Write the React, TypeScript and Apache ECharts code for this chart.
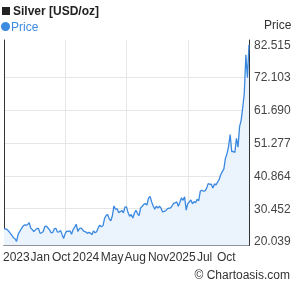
import React, { useEffect, useRef } from "react";
import * as echarts from "echarts";

// Weekly silver prices (USD/oz), starting 2023-01-13
const prices2023 = [
  24.0, 24.0, 23.8,
  23.3, 22.6, 22.0, 21.2,
  20.9, 20.04, 22.3, 23.2, 24.0,
  24.8, 25.3, 25.2, 25.4,
  26.0, 24.3, 23.8, 23.2,
  23.7, 24.2, 24.1, 22.6, 22.8,
  23.2, 24.8, 24.9, 24.3,
  23.7, 22.8, 22.9, 24.0,
  24.2, 23.0, 23.1, 23.5, 22.2,
  21.0, 22.6, 23.3, 23.2,
  23.4, 22.3, 23.8, 24.6,
  25.5, 23.2, 24.1, 24.3, 23.8,
];
const prices2024 = [
  23.2, 23.1, 22.6, 22.9,
  22.7, 22.2, 23.4, 22.8,
  23.1, 24.4, 25.2, 24.7, 25.0,
  27.3, 28.3, 28.6, 27.2,
  26.6, 28.2, 31.3, 30.3, 30.4,
  29.2, 29.5, 29.9, 29.1,
  30.9, 31.0, 29.2, 28.0,
  28.6, 27.5, 29.0, 29.9, 28.9,
  28.2, 30.7, 31.2, 31.8,
  32.1, 31.6, 33.8, 34.3,
  32.6, 31.3, 30.3, 31.2, 30.6,
  31.2, 30.6, 29.4, 29.6,
];
const prices2025 = [
  29.8, 30.4, 30.6, 30.6, 31.3,
  32.1, 32.3, 32.6, 31.2,
  32.5, 33.9, 33.1, 34.2,
  30.0, 32.0, 32.6, 33.2,
  32.0, 32.7, 32.3, 33.4, 33.0,
  36.0, 36.3, 36.0, 36.1,
  36.9, 38.4, 38.2, 38.2,
  37.0, 38.3, 38.0, 38.9, 39.7,
  41.2, 42.2, 43.1, 46.4,
  47.9, 50.2, 54.0, 48.6, 48.6,
  48.3, 52.8, 50.0, 56.5,
  58.5, 62.5, 67.1, 79.3,
];
const prices2026 = [72.0, 82.515];

const startDate = "2023-01-13";

// Y-axis tick labels
const yTickLabels = [20.039, 30.452, 40.864, 51.277, 61.69, 72.103, 82.515];

// X-axis tick labels (text and the date where each label sits)
const xLabelTexts = ["2023", "Jan", "Oct", "2024", "May", "Aug", "Nov", "2025", "Jul", "Oct"];
const xLabelDates = [
  "2023-03-09", "2023-06-23", "2023-09-25", "2024-01-13", "2024-05-09",
  "2024-08-20", "2024-12-02", "2025-03-18", "2025-06-25", "2025-09-30",
];

const DAY = 86400000;
const parseUTC = (s: string) => {
  const [y, m, d] = s.split("-").map(Number);
  return Date.UTC(y, m - 1, d);
};

export default function App() {
  const ref = useRef<HTMLDivElement>(null);

  useEffect(() => {
    document.body.style.margin = "0";
    if (!ref.current) return;
    const chart = echarts.init(ref.current, undefined, { renderer: "svg" });

    const prices = [...prices2023, ...prices2024, ...prices2025, ...prices2026];
    const t0 = parseUTC(startDate);
    const data = prices.map((v, i) => [t0 + i * 7 * DAY, v]);
    const tMin = data[0][0] as number;
    const tMax = data[data.length - 1][0] as number;
    const quarterTicks = [1, 2, 3].map((k) => tMin + ((tMax - tMin) * k) / 4);
    const labelTs = xLabelDates.map(parseUTC);

    const font = '"Liberation Sans", Arial, sans-serif';
    const yMin = 18.75;
    const yMax = 84.0;

    chart.setOption({
      animation: false,
      textStyle: { fontFamily: font },
      title: {
        text: "Silver [USD/oz]",
        left: 13,
        top: 5,
        padding: 0,
        textStyle: { fontSize: 12, fontWeight: "bold", color: "#222", fontFamily: font },
      },
      legend: {
        data: ["Price"],
        left: 1,
        top: 20.5,
        padding: 0,
        icon: "circle",
        itemWidth: 9,
        itemHeight: 9,
        textStyle: { fontSize: 12, color: "#3d8be1", fontFamily: font, padding: [0, 0, 0, -4] },
      },
      graphic: [
        { type: "rect", shape: { x: 2, y: 7, width: 8, height: 8 }, style: { fill: "#222" } },
        {
          type: "text",
          right: 5,
          top: 269,
          style: { text: "© Chartoasis.com", font: `12px ${font}`, fill: "#333" },
        },
      ],
      grid: { left: 1, right: 46, top: 40, bottom: 42.5, containLabel: false },
      xAxis: {
        type: "value",
        min: tMin,
        max: tMax,
        axisLine: { show: true, onZero: false, lineStyle: { color: "#333", width: 1 } },
        axisTick: { show: false, customValues: quarterTicks },
        splitLine: { show: true, lineStyle: { color: "#e6e6e6", width: 1 } },
        axisLabel: {
          customValues: labelTs,
          formatter: (v: number) => {
            const idx = labelTs.indexOf(v);
            return idx >= 0 ? xLabelTexts[idx] : "";
          },
          color: "#333",
          fontSize: 12,
          margin: 5,
          hideOverlap: false,
          showMinLabel: true,
          showMaxLabel: true,
        },
      },
      yAxis: [
        {
          type: "value",
          position: "right",
          min: yMin,
          max: yMax,
          name: "Price",
          nameLocation: "end",
          nameGap: 15,
          nameTextStyle: {
            align: "left",
            verticalAlign: "middle",
            padding: [0, 0, 0, 15],
            fontSize: 12,
            color: "#333",
          },
          axisLine: { show: true, onZero: false, lineStyle: { color: "#333", width: 1 } },
          axisTick: { show: false, customValues: yTickLabels.slice(1, -1) },
          splitLine: { show: true, lineStyle: { color: "#e6e6e6", width: 1 } },
          axisLabel: {
            customValues: yTickLabels,
            formatter: (v: number) => v.toFixed(3),
            color: "#444",
            fontSize: 12,
            margin: 5,
            showMinLabel: true,
            showMaxLabel: true,
          },
        },
        {
          type: "value",
          position: "left",
          min: yMin,
          max: yMax,
          axisLine: { show: true, onZero: false, lineStyle: { color: "#333", width: 1 } },
          axisTick: { show: false },
          axisLabel: { show: false },
          splitLine: { show: false },
        },
      ],
      series: [
        {
          name: "Price",
          type: "line",
          data,
          yAxisIndex: 0,
          showSymbol: false,
          symbol: "none",
          color: "#3d8be1",
          lineStyle: { color: "#3a88e0", width: 1.3 },
          areaStyle: { color: "#ebf4fd", opacity: 1 },
        },
      ],
    });

    return () => chart.dispose();
  }, []);

  return (
    <div
      ref={ref}
      style={{ position: "fixed", left: 0, top: 0, width: 295, height: 288 }}
    />
  );
}
